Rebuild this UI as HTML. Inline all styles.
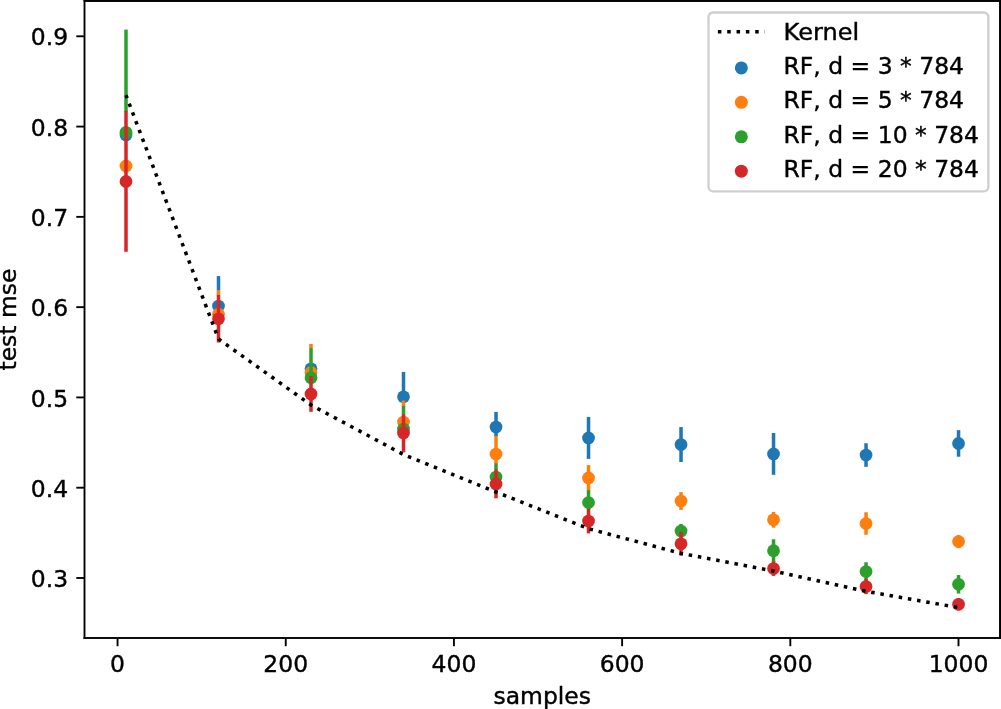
<!DOCTYPE html>
<html lang="en">
<head>
<meta charset="utf-8">
<title>test mse vs samples</title>
<style>
html,body{margin:0;padding:0;background:#fff;}
body{width:1001px;height:709px;overflow:hidden;}
svg{display:block;}
svg text{stroke:#000;stroke-width:0.4px;stroke-linejoin:round;}
</style>
</head>
<body>
<svg width="1001" height="709" viewBox="0 0 1001 709" font-family="'DejaVu Sans', 'Liberation Sans', sans-serif" font-size="23.46" fill="#000">
<rect x="0" y="0" width="1001" height="709" fill="#fff"/>
<g fill="#1f77b4">
<circle cx="126.00" cy="135.00" r="6.375"/>
<circle cx="218.50" cy="306.00" r="6.375"/>
<circle cx="311.01" cy="368.80" r="6.375"/>
<circle cx="403.51" cy="396.85" r="6.375"/>
<circle cx="496.02" cy="427.05" r="6.375"/>
<circle cx="588.52" cy="437.90" r="6.375"/>
<circle cx="681.03" cy="444.55" r="6.375"/>
<circle cx="773.53" cy="453.90" r="6.375"/>
<circle cx="866.04" cy="455.05" r="6.375"/>
<circle cx="958.54" cy="443.45" r="6.375"/>
</g>
<g fill="#ff7f0e">
<circle cx="126.00" cy="165.90" r="6.375"/>
<circle cx="218.50" cy="314.20" r="6.375"/>
<circle cx="311.01" cy="372.40" r="6.375"/>
<circle cx="403.51" cy="422.05" r="6.375"/>
<circle cx="496.02" cy="454.00" r="6.375"/>
<circle cx="588.52" cy="477.90" r="6.375"/>
<circle cx="681.03" cy="501.05" r="6.375"/>
<circle cx="773.53" cy="519.80" r="6.375"/>
<circle cx="866.04" cy="523.50" r="6.375"/>
<circle cx="958.54" cy="541.55" r="6.375"/>
</g>
<g fill="#2ca02c">
<circle cx="126.00" cy="132.30" r="6.375"/>
<circle cx="218.50" cy="318.75" r="5.475"/>
<circle cx="311.01" cy="377.70" r="6.375"/>
<circle cx="403.51" cy="429.10" r="6.375"/>
<circle cx="496.02" cy="477.05" r="6.375"/>
<circle cx="588.52" cy="502.55" r="6.375"/>
<circle cx="681.03" cy="531.10" r="6.375"/>
<circle cx="773.53" cy="550.70" r="6.375"/>
<circle cx="866.04" cy="571.60" r="6.375"/>
<circle cx="958.54" cy="584.30" r="6.375"/>
</g>
<g fill="#d62728">
<circle cx="126.00" cy="181.40" r="6.375"/>
<circle cx="218.50" cy="318.75" r="6.375"/>
<circle cx="311.01" cy="393.90" r="6.375"/>
<circle cx="403.51" cy="432.95" r="6.375"/>
<circle cx="496.02" cy="483.90" r="6.375"/>
<circle cx="588.52" cy="521.10" r="6.375"/>
<circle cx="681.03" cy="543.80" r="6.375"/>
<circle cx="773.53" cy="568.60" r="6.375"/>
<circle cx="866.04" cy="586.50" r="6.375"/>
<circle cx="958.54" cy="604.30" r="6.375"/>
</g>
<g stroke="#1f77b4" stroke-width="3.52" fill="none">
<line x1="218.50" y1="276.10" x2="218.50" y2="290.70"/>
<line x1="403.51" y1="371.90" x2="403.51" y2="401.10"/>
<line x1="496.02" y1="411.90" x2="496.02" y2="436.50"/>
<line x1="588.52" y1="416.90" x2="588.52" y2="458.90"/>
<line x1="681.03" y1="427.05" x2="681.03" y2="462.05"/>
<line x1="773.53" y1="433.00" x2="773.53" y2="474.80"/>
<line x1="866.04" y1="443.25" x2="866.04" y2="466.85"/>
<line x1="958.54" y1="430.15" x2="958.54" y2="456.75"/>
</g>
<g stroke="#ff7f0e" stroke-width="3.52" fill="none">
<line x1="218.50" y1="290.10" x2="218.50" y2="295.60"/>
<line x1="311.01" y1="343.90" x2="311.01" y2="348.70"/>
<line x1="403.51" y1="400.50" x2="403.51" y2="406.50"/>
<line x1="496.02" y1="435.90" x2="496.02" y2="464.10"/>
<line x1="588.52" y1="465.10" x2="588.52" y2="490.70"/>
<line x1="681.03" y1="492.15" x2="681.03" y2="509.95"/>
<line x1="773.53" y1="511.90" x2="773.53" y2="527.70"/>
<line x1="866.04" y1="512.25" x2="866.04" y2="534.75"/>
<line x1="958.54" y1="535.05" x2="958.54" y2="548.05"/>
</g>
<g stroke="#2ca02c" stroke-width="3.52" fill="none">
<line x1="126.00" y1="29.60" x2="126.00" y2="111.60"/>
<line x1="311.01" y1="348.10" x2="311.01" y2="376.60"/>
<line x1="403.51" y1="405.90" x2="403.51" y2="414.80"/>
<line x1="403.51" y1="451.10" x2="403.51" y2="452.30"/>
<line x1="496.02" y1="463.50" x2="496.02" y2="470.05"/>
<line x1="588.52" y1="490.10" x2="588.52" y2="509.40"/>
<line x1="681.03" y1="524.00" x2="681.03" y2="532.55"/>
<line x1="773.53" y1="539.25" x2="773.53" y2="561.90"/>
<line x1="866.04" y1="562.25" x2="866.04" y2="579.50"/>
<line x1="958.54" y1="575.05" x2="958.54" y2="593.55"/>
</g>
<g stroke="#d62728" stroke-width="3.52" fill="none">
<line x1="126.00" y1="111.00" x2="126.00" y2="251.80"/>
<line x1="218.50" y1="295.00" x2="218.50" y2="342.50"/>
<line x1="311.01" y1="376.00" x2="311.01" y2="411.80"/>
<line x1="403.51" y1="414.20" x2="403.51" y2="451.70"/>
<line x1="496.02" y1="469.45" x2="496.02" y2="498.35"/>
<line x1="588.52" y1="508.80" x2="588.52" y2="533.40"/>
<line x1="681.03" y1="531.95" x2="681.03" y2="555.65"/>
<line x1="773.53" y1="561.30" x2="773.53" y2="575.90"/>
<line x1="866.04" y1="578.90" x2="866.04" y2="594.10"/>
<line x1="958.54" y1="598.30" x2="958.54" y2="610.30"/>
</g>
<polyline points="126.00,95.20 218.50,339.00 311.01,405.00 403.51,454.56 496.02,492.00 588.52,528.70 681.03,553.40 773.53,571.00 866.04,591.30 958.54,607.60" fill="none" stroke="#000" stroke-width="3.52" stroke-dasharray="3.515 5.800" stroke-dashoffset="0.26" stroke-linejoin="round"/>
<g stroke="#000" stroke-width="1.88">
<line x1="117.55" y1="638.00" x2="117.55" y2="646.21"/>
<line x1="285.74" y1="638.00" x2="285.74" y2="646.21"/>
<line x1="453.93" y1="638.00" x2="453.93" y2="646.21"/>
<line x1="622.12" y1="638.00" x2="622.12" y2="646.21"/>
<line x1="790.31" y1="638.00" x2="790.31" y2="646.21"/>
<line x1="958.50" y1="638.00" x2="958.50" y2="646.21"/>
<line x1="84.50" y1="577.98" x2="76.29" y2="577.98"/>
<line x1="84.50" y1="487.70" x2="76.29" y2="487.70"/>
<line x1="84.50" y1="397.42" x2="76.29" y2="397.42"/>
<line x1="84.50" y1="307.14" x2="76.29" y2="307.14"/>
<line x1="84.50" y1="216.86" x2="76.29" y2="216.86"/>
<line x1="84.50" y1="126.58" x2="76.29" y2="126.58"/>
<line x1="84.50" y1="36.30" x2="76.29" y2="36.30"/>
</g>
<g fill="#000">
<rect x="83.56" y="0" width="1.88" height="638.94"/>
<rect x="999.06" y="0" width="1.94" height="638.94"/>
<rect x="83.56" y="0" width="917.44" height="1.94"/>
<rect x="83.56" y="637.06" width="917.44" height="1.88"/>
</g>
<text x="117.55" y="672.30" text-anchor="middle">0</text>
<text x="285.74" y="672.30" text-anchor="middle">200</text>
<text x="453.93" y="672.30" text-anchor="middle">400</text>
<text x="622.12" y="672.30" text-anchor="middle">600</text>
<text x="790.31" y="672.30" text-anchor="middle">800</text>
<text x="958.50" y="672.30" text-anchor="middle">1000</text>
<text x="68.08" y="587.08" text-anchor="end">0.3</text>
<text x="68.08" y="496.80" text-anchor="end">0.4</text>
<text x="68.08" y="406.52" text-anchor="end">0.5</text>
<text x="68.08" y="316.24" text-anchor="end">0.6</text>
<text x="68.08" y="225.96" text-anchor="end">0.7</text>
<text x="68.08" y="135.68" text-anchor="end">0.8</text>
<text x="68.08" y="45.40" text-anchor="end">0.9</text>
<text x="542.25" y="703.70" text-anchor="middle">samples</text>
<text transform="translate(16.15,319.50) rotate(-90)" text-anchor="middle">test mse</text>
<rect x="708.50" y="12.50" width="279.90" height="178.90" rx="4.69" ry="4.69" fill="#fff" fill-opacity="0.8" stroke="#ccc" stroke-opacity="0.95" stroke-width="2.35"/>
<line x1="717.88" y1="31.85" x2="764.80" y2="31.85" stroke="#000" stroke-width="3.52" stroke-dasharray="3.52 5.81"/>
<text transform="translate(783.57,39.50) scale(1.025,1)">Kernel</text>
<text x="783.57" y="73.93">RF, d = 3 * 784</text>
<circle cx="741.34" cy="67.93" r="6.500" fill="#1f77b4"/>
<text x="783.57" y="108.36">RF, d = 5 * 784</text>
<circle cx="741.34" cy="102.36" r="6.500" fill="#ff7f0e"/>
<text x="783.57" y="142.79">RF, d = 10 * 784</text>
<circle cx="741.34" cy="136.79" r="6.500" fill="#2ca02c"/>
<text x="783.57" y="177.22">RF, d = 20 * 784</text>
<circle cx="741.34" cy="171.22" r="6.500" fill="#d62728"/>
</svg>
</body>
</html>
